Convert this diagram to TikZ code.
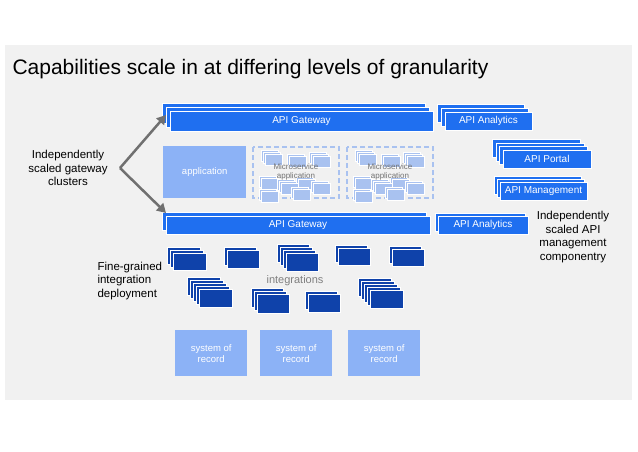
\documentclass[tikz,border=0pt]{standalone}
\usepackage{fontspec}
\setmainfont{Liberation Sans}
\usetikzlibrary{arrows.meta}
\definecolor{bgg}{HTML}{F1F1F1}
\definecolor{ibm}{HTML}{1F6FF0}
\definecolor{dark}{HTML}{0F42AA}
\definecolor{light}{HTML}{8CB2F6}
\definecolor{dashc}{HTML}{A9C2F0}
\definecolor{arr}{HTML}{707070}
\tikzset{
 bluebox/.style={fill=ibm,draw=white,line width=0.6pt,inner sep=0pt,text=white},
 darkbox/.style={fill=dark,draw=white,line width=0.5pt},
 lightbox/.style={fill=light,text=white,align=center,font=\fontsize{9.5}{11}\selectfont},
 lbl/.style={align=center,font=\fontsize{11.5}{13.5}\selectfont,text=black},
}
\newcommand{\mystack}[9]{%
 \foreach \i in {#5,...,1}{\path[#7] (#1-\i*#6,#2-\i*#6) rectangle (#3-\i*#6,#4-\i*#6);}
 \path[#7] (#1,#2) rectangle (#3,#4) node[midway,text=white,font=\fontsize{10}{11}\selectfont] (#8) {#9};}
\begin{document}
\begin{tikzpicture}[x=1pt,y=-1pt]
\useasboundingbox (0,0) rectangle (638,452);
\fill[bgg] (5,45) rectangle (632,400);
\node[anchor=west,font=\fontsize{21}{24}\selectfont] (title) at (9,69) {Capabilities scale in at differing levels of granularity};
\mystack{170}{111}{433}{131}{2}{4}{bluebox}{gw1}{API Gateway}
\mystack{445}{112}{532}{130}{2}{4}{bluebox}{an1}{API Analytics}
\mystack{166}{216}{430}{234}{1}{4}{bluebox}{gw2}{API Gateway}
\mystack{438}{216}{528}{234}{1}{3}{bluebox}{an2}{API Analytics}
\mystack{503}{150}{591}{168}{3}{3.5}{bluebox}{portal}{API Portal}
\mystack{500}{182}{587}{200}{2}{3}{bluebox}{mgmt}{API Management}
\node[lightbox,minimum width=83pt,minimum height=52pt,anchor=north west] (app) at (163,146) {application};
\foreach \x/\n in {253/ms1,347/ms2}{
 \draw[dashc,line width=1.6pt,dash pattern=on 5pt off 3pt] (\x,147) rectangle (\x+86,198);
 \foreach \a/\b/\k in {8/5/2,32/7/1,56/7/2,4/29/1,41/30/1,24/34/2,56/34/1,4/42/0,36/40/0}{
  \mystack{\x+\a+4}{147+\b+2}{\x+\a+21}{147+\b+13}{\k}{2}{fill=dashc,draw=white,line width=0.4pt}{\n\a\b}{}
 }
 \node[font=\fontsize{8}{9}\selectfont,text=gray!90!black,align=center] (\n) at (\x+43,172) {Microservice\\application};
}
\node[lbl] (lefttxt) at (68,168) {Independently\\scaled gateway\\clusters};
\coordinate (fork) at (120,168);
\draw[arr,line width=2.5pt,-{Triangle[length=9pt,width=10pt]}] (fork) -- (166,115);
\draw[arr,line width=2.5pt,-{Triangle[length=9pt,width=10pt]}] (fork) -- (166,213);
\node[lbl,anchor=west,align=left] (fine) at (94,281) {Fine-grained\\integration\\deployment};
\node[lbl] (righttxt) at (573,237) {Independently\\scaled API\\management\\componentry};
\mystack{173}{253}{206}{270}{2}{3}{darkbox}{i1}{}
\mystack{227}{250}{259}{268}{1}{3}{darkbox}{i2}{}
\mystack{286}{253}{318}{271}{3}{3}{darkbox}{i3}{}
\mystack{338}{248}{370}{265}{0}{3}{darkbox}{i4}{}
\mystack{392}{249}{424}{266}{1}{3}{darkbox}{i5}{}
\mystack{199}{289}{232}{307}{4}{3}{darkbox}{i6}{}
\mystack{257}{294}{289}{313}{2}{3}{darkbox}{i7}{}
\mystack{308}{294}{340}{312}{1}{3}{darkbox}{i8}{}
\mystack{370}{290}{403}{308}{4}{3}{darkbox}{i9}{}
\node[text=gray,font=\fontsize{11}{12}\selectfont] (integ) at (295,281) {integrations};
\foreach \x/\n in {175/s1,260/s2,348/s3}
 \node[lightbox,minimum width=72pt,minimum height=46pt,anchor=north west] (\n) at (\x,330) {system of\\record};
\end{tikzpicture}
\end{document}
